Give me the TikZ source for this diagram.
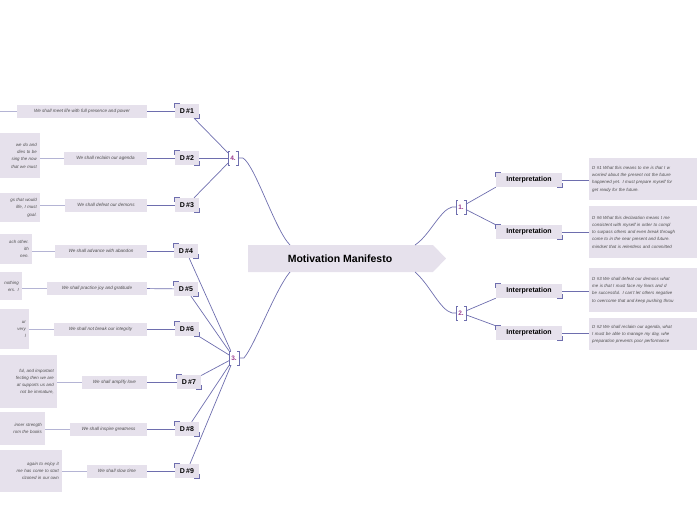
\documentclass[tikz,border=0pt]{standalone}
\usepackage{fontspec}
\setmainfont{Liberation Sans}
\usetikzlibrary{shapes.symbols}
\definecolor{bx}{HTML}{E6E1EC}
\definecolor{ln}{HTML}{6E6EAE}
\definecolor{lnl}{HTML}{B4B4D4}
\definecolor{num}{HTML}{9A3C8E}
\tikzset{
 lbl/.style={fill=bx,font=\fontsize{4.6}{6}\selectfont\itshape,text=black!70,inner sep=2pt,minimum height=13pt},
 dn/.style={fill=bx,font=\fontsize{7}{8}\selectfont\bfseries,inner sep=2pt,minimum width=24pt,minimum height=14pt},
 ip/.style={fill=bx,font=\fontsize{7}{8}\selectfont\bfseries,inner sep=2pt,minimum width=66pt,minimum height=14pt},
 nt/.style={fill=bx,font=\fontsize{4.4}{7.2}\selectfont\itshape,text=black!70,inner sep=3pt,align=left,anchor=north west,text width=116pt},
 ntl/.style={fill=bx,font=\fontsize{4.4}{7.2}\selectfont\itshape,text=black!70,inner sep=3pt,align=right,anchor=north east},
 br/.style={font=\fontsize{6.5}{8}\selectfont\bfseries,text=num,inner sep=2pt,minimum height=14pt},
 cn/.style={draw=ln,line width=0.7pt},
 cl/.style={draw=lnl,line width=0.6pt},
}
\newcommand{\brk}[1]{\draw[ln,line width=1.3pt] ([yshift=-4pt]#1.north west) -- (#1.north west) -- ++(5pt,0);
 \draw[ln,line width=1.3pt] ([yshift=4pt]#1.south east) -- (#1.south east) -- ++(-5pt,0);}
\newcommand{\sqb}[1]{\draw[ln,line width=0.6pt] ([xshift=2pt]#1.north west) -- (#1.north west) -- (#1.south west) -- ++(2pt,0);
 \draw[ln,line width=0.6pt] ([xshift=-2pt]#1.north east) -- (#1.north east) -- (#1.south east) -- ++(-2pt,0);}
\begin{document}
\begin{tikzpicture}[x=1pt,y=-1pt]
\useasboundingbox (0,0) rectangle (697,520);
\clip (0,0) rectangle (697,520);
% title
\fill[bx] (248,245) -- (433,245) -- (446,258.5) -- (433,272) -- (248,272) -- cycle;
\node[font=\fontsize{10.5}{12}\selectfont\bfseries] (title) at (340,259) {Motivation Manifesto};
% branch markers
\node[br] (b4) at (233,158) {4.};
\node[br] (b3) at (234,358) {3.};
\node[br] (b1) at (461,207) {1.};
\node[br] (b2) at (461,313) {2.};
\foreach \b in {b1,b2,b3,b4}{\sqb{\b}}
\draw[cn] (b4.east) -- ++(5,0) .. controls (255,165) and (275,230) .. (290,245);
\draw[cn] (b3.east) -- ++(5,0) .. controls (255,345) and (275,290) .. (290,272);
\draw[cn] (b1.west) -- ++(-4,0) .. controls (440,210) and (430,235) .. (415,245);
\draw[cn] (b2.west) -- ++(-4,0) .. controls (440,310) and (430,285) .. (415,272);
% D nodes
\foreach \n/\x/\y in {1/187/111,2/187/158,3/187/205,4/186/251,5/186/289,6/187/329,7/189/382,8/187/429,9/187/471}{
 \node[dn] (d\n) at (\x,\y) {D\,\#\n};
}
\foreach \n in {1,...,9}{\brk{d\n}}
\foreach \n in {1,2,3}{\draw[cn] (d\n) -- (b4);}
\foreach \n in {4,...,9}{\draw[cn] (d\n) -- (b3);}
% statements
\node[lbl,minimum width=130pt] (s1) at (82,111) {We shall meet life with full presence and power};
\node[lbl,minimum width=83pt] (s2) at (105.5,158) {We shall reclaim our agenda};
\node[lbl,minimum width=82pt] (s3) at (106,205) {We shall defeat our demons};
\node[lbl,minimum width=92pt] (s4) at (101,251) {We shall advance with abandon};
\node[lbl,minimum width=100pt] (s5) at (97,288) {We shall practice joy and gratitude};
\node[lbl,minimum width=93pt] (s6) at (100.5,329) {We shall not break our integrity};
\node[lbl,minimum width=65pt] (s7) at (114.5,382) {We shall amplify love};
\node[lbl,minimum width=77pt] (s8) at (108.5,429) {We shall inspire greatness};
\node[lbl,minimum width=60pt] (s9) at (117,471) {We shall slow time};
\foreach \n in {1,...,9}{\draw[cn] (s\n) -- (d\n);}
% left notes
\coordinate (e1) at (0,111);
\node[ntl,text width=34pt,minimum height=45pt] (n2) at (40,133) {we do and\\dies to be\\sing the now\\that we must};
\node[ntl,text width=34pt,minimum height=29pt] (n3) at (40,193) {gs that would\\life, I must\\goal.};
\node[ntl,text width=26pt,minimum height=30pt] (n4) at (32,234) {ach other.\\ith\\nen.};
\node[ntl,text width=16pt,minimum height=28pt] (n5) at (22,272) {nothing\\ers. I};
\node[ntl,text width=23pt,minimum height=40pt] (n6) at (29,309) {ur\\very\\l};
\node[ntl,text width=51pt,minimum height=53pt] (n7) at (57,355) {ful, and important\\fecting then we are\\at supports us and\\ not be immature,};
\node[ntl,text width=39pt,minimum height=33pt] (n8) at (45,412) {inner strength\\rom the books};
\node[ntl,text width=56pt,minimum height=42pt] (n9) at (62,450) {again to enjoy it\\me has come to start\\rizoned in our own};
\draw[cl] (e1) -- (s1);
\foreach \n in {2,...,9}{\draw[cl] (n\n.east |- s\n) -- (s\n);}
% interpretations
\node[ip] (i1) at (529,180) {Interpretation};
\node[ip] (i2) at (529,232) {Interpretation};
\node[ip] (i3) at (529,291) {Interpretation};
\node[ip] (i4) at (529,333) {Interpretation};
\foreach \n in {1,...,4}{\brk{i\n}}
\draw[cn] (b1) -- (i1.south west); \draw[cn] (b1) -- (i2.north west);
\draw[cn] (b2) -- (i3.south west); \draw[cn] (b2) -- (i4.north west);
\node[nt,minimum height=42pt] (r1) at (589,158) {D \#1 What this means to me is that I w\\worried about the present not the future\\happened yet. I must prepare myself for\\get ready for the future.};
\node[nt,minimum height=52pt] (r2) at (589,206) {D \#6 What this declaration means t me\\consistent with myself in order to compl\\to surpass others and even break through\\come to in the near present and future.\\mindset that is relentless and committed};
\node[nt,minimum height=44pt] (r3) at (589,268) {D \#3 We shall defeat our demons what\\me is that I must face my fears and d\\be successful. I can't let others negative\\to overcome that and keep pushing throu};
\node[nt,minimum height=32pt] (r4) at (589,318) {D \#2 We shall reclaim our agenda, what\\I must be able to manage my day, whe\\preparation prevents poor performance};
\foreach \n in {1,...,4}{\draw[cn] (i\n.east) -- (r\n.west |- i\n.east);}
\end{tikzpicture}
\end{document}
